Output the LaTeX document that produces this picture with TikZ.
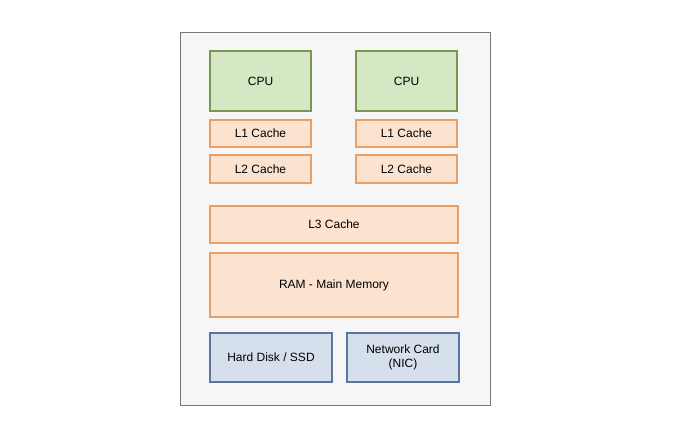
\documentclass[tikz,border=0pt]{standalone}
\usepackage{fontspec}
\setmainfont{Liberation Sans}
\begin{document}
\begin{tikzpicture}[x=1pt,y=-1pt,
  box/.style={draw, line width=1.2pt, inner sep=0pt, align=center, font=\fontsize{12}{14}\selectfont},
  cpu/.style={box, draw=green!30!black!50!olive!80, fill={rgb,255:red,213;green,232;blue,196}},
  cache/.style={box, draw={rgb,255:red,232;green,160;blue,104}, fill={rgb,255:red,252;green,227;blue,207}},
  io/.style={box, draw={rgb,255:red,90;green,118;blue,160}, fill={rgb,255:red,214;green,224;blue,236}}]
\useasboundingbox (0,0) rectangle (700,441);
\node[draw={rgb,255:red,120;green,120;blue,120}, line width=1pt, fill={rgb,255:red,246;green,246;blue,246}, minimum width=310pt, minimum height=372pt, inner sep=0pt] (outer) at (335,219) {};
\node[cpu, draw={rgb,255:red,122;green,150;blue,80}, minimum width=101pt, minimum height=60pt] (cpu1) at (260.5,81) {CPU};
\node[cpu, draw={rgb,255:red,122;green,150;blue,80}, minimum width=101pt, minimum height=60pt] (cpu2) at (406.5,81) {CPU};
\node[cache, minimum width=101pt, minimum height=27pt] (l11) at (260.5,133.5) {L1 Cache};
\node[cache, minimum width=101pt, minimum height=27pt] (l12) at (406.5,133.5) {L1 Cache};
\node[cache, minimum width=101pt, minimum height=28pt] (l21) at (260.5,169) {L2 Cache};
\node[cache, minimum width=101pt, minimum height=28pt] (l22) at (406.5,169) {L2 Cache};
\node[cache, minimum width=248pt, minimum height=37pt] (l3) at (334,224.5) {L3 Cache};
\node[cache, minimum width=248pt, minimum height=64pt] (ram) at (334,285) {RAM - Main Memory};
\node[io, minimum width=122pt, minimum height=49pt] (hd) at (271,357.5) {Hard Disk / SSD};
\node[io, minimum width=112pt, minimum height=49pt] (nic) at (403,357.5) {Network Card\\(NIC)};
\end{tikzpicture}
\end{document}
